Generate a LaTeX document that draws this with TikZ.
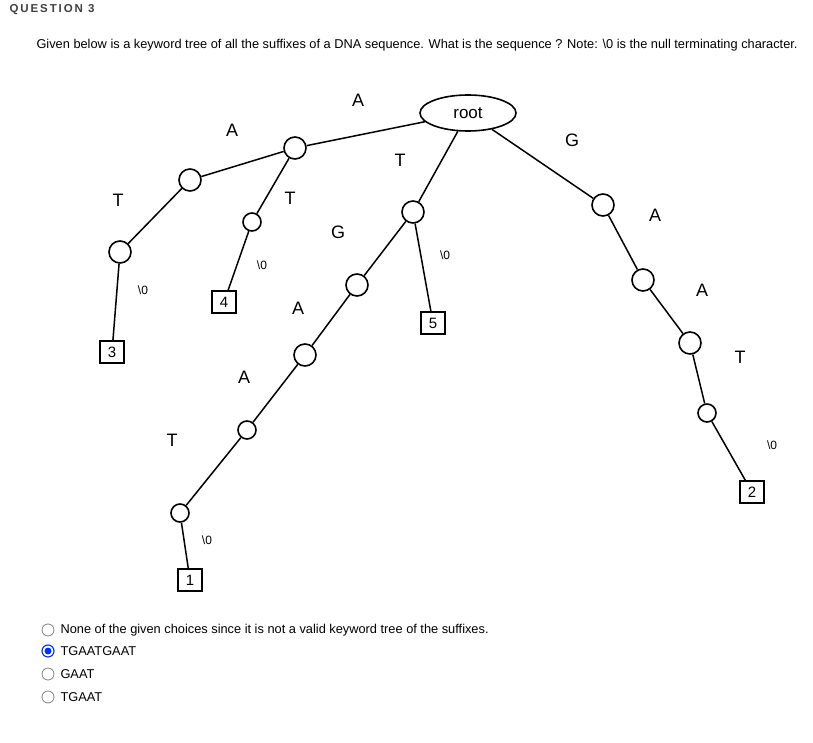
\documentclass[tikz,border=0pt]{standalone}
\usepackage{fontspec}
\setmainfont{Liberation Sans}
\usetikzlibrary{shapes.geometric}
\begin{document}
\begin{tikzpicture}[x=1pt,y=-1pt,
  nd/.style={draw,circle,line width=1.6pt,minimum size=22pt,inner sep=0},
  bx/.style={draw,line width=1.5pt,minimum width=24pt,minimum height=22pt,font=\fontsize{15}{15}\selectfont},
  lb/.style={font=\fontsize{18}{18}\selectfont},
  nl/.style={font=\fontsize{12}{12}\selectfont},
  ed/.style={line width=1.5pt},
  rad/.style={draw=gray,circle,minimum size=12pt,inner sep=0,line width=0.8pt}]
\useasboundingbox (0,0) rectangle (813,743);
\node[anchor=west,font=\bfseries\fontsize{11.5}{11.5}\selectfont,text=black!75] (title) at (6,10) {Q\,U\,E\,S\,T\,I\,O\,N\, 3};
\node[anchor=west,font=\fontsize{12.8}{12.8}\selectfont] (q) at (33,45) {Given below is a keyword tree of all the suffixes of a DNA sequence. What is the sequence ? Note: \textbackslash 0 is the null terminating character.};
\node[draw,ellipse,line width=1.6pt,minimum width=96pt,minimum height=36pt,font=\fontsize{17}{17}\selectfont] (root) at (468,113) {root};
\node[nd] (a1) at (295,148) {};
\node[nd] (a2) at (190,180) {};
\node[nd] (t1) at (120,252) {};
\node[bx] (b3) at (112,352) {3};
\node[nd,minimum size=18pt] (t2) at (252,222) {};
\node[bx] (b4) at (224,302) {4};
\node[nd] (t3) at (413,212) {};
\node[bx] (b5) at (433,323) {5};
\node[nd] (g1) at (357,285) {};
\node[nd] (a3) at (305,355) {};
\node[nd,minimum size=18pt] (a4) at (247,430) {};
\node[nd,minimum size=18pt] (t4) at (180,513) {};
\node[bx] (b1) at (190,580) {1};
\node[nd] (g2) at (603,205) {};
\node[nd] (a5) at (643,280) {};
\node[nd] (a6) at (690,343) {};
\node[nd,minimum size=18pt] (t5) at (707,413) {};
\node[bx] (b2) at (752,492) {2};
\draw[ed] (root) -- (a1); \draw[ed] (a1) -- (a2); \draw[ed] (a2) -- (t1); \draw[ed] (t1) -- (b3);
\draw[ed] (a1) -- (t2); \draw[ed] (t2) -- (b4);
\draw[ed] (root) -- (t3); \draw[ed] (t3) -- (b5); \draw[ed] (t3) -- (g1);
\draw[ed] (g1) -- (a3); \draw[ed] (a3) -- (a4); \draw[ed] (a4) -- (t4); \draw[ed] (t4) -- (b1);
\draw[ed] (root) -- (g2); \draw[ed] (g2) -- (a5); \draw[ed] (a5) -- (a6); \draw[ed] (a6) -- (t5); \draw[ed] (t5) -- (b2);
\node[lb] (l1) at (358,100) {A};
\node[lb] (l2) at (232,130) {A};
\node[lb] (l3) at (118,200) {T};
\node[nl] (l4) at (143,290) {\textbackslash 0};
\node[lb] (l5) at (290,198) {T};
\node[nl] (l6) at (262,265) {\textbackslash 0};
\node[lb] (l7) at (400,160) {T};
\node[nl] (l8) at (445,255) {\textbackslash 0};
\node[lb] (l9) at (338,232) {G};
\node[lb] (l10) at (298,308) {A};
\node[lb] (l11) at (244,377) {A};
\node[lb] (l12) at (172,440) {T};
\node[nl] (l13) at (207,540) {\textbackslash 0};
\node[lb] (l14) at (572,140) {G};
\node[lb] (l15) at (655,215) {A};
\node[lb] (l16) at (702,290) {A};
\node[lb] (l17) at (740,357) {T};
\node[nl] (l18) at (772,445) {\textbackslash 0};
\foreach \y/\t/\n in {630/None of the given choices since it is not a valid keyword tree of the suffixes./o1,651/TGAATGAAT/o2,674/GAAT/o3,697/TGAAT/o4}{
  \node[rad] (r\n) at (48,\y) {};
  \node[anchor=west,font=\fontsize{12.8}{12.8}\selectfont] (t\n) at (57,\y) {\t};
}
\fill[blue!80!cyan] (ro2) circle (3.5pt);
\draw[blue!80!cyan,line width=1pt] (ro2) circle (6pt);
\end{tikzpicture}
\end{document}
